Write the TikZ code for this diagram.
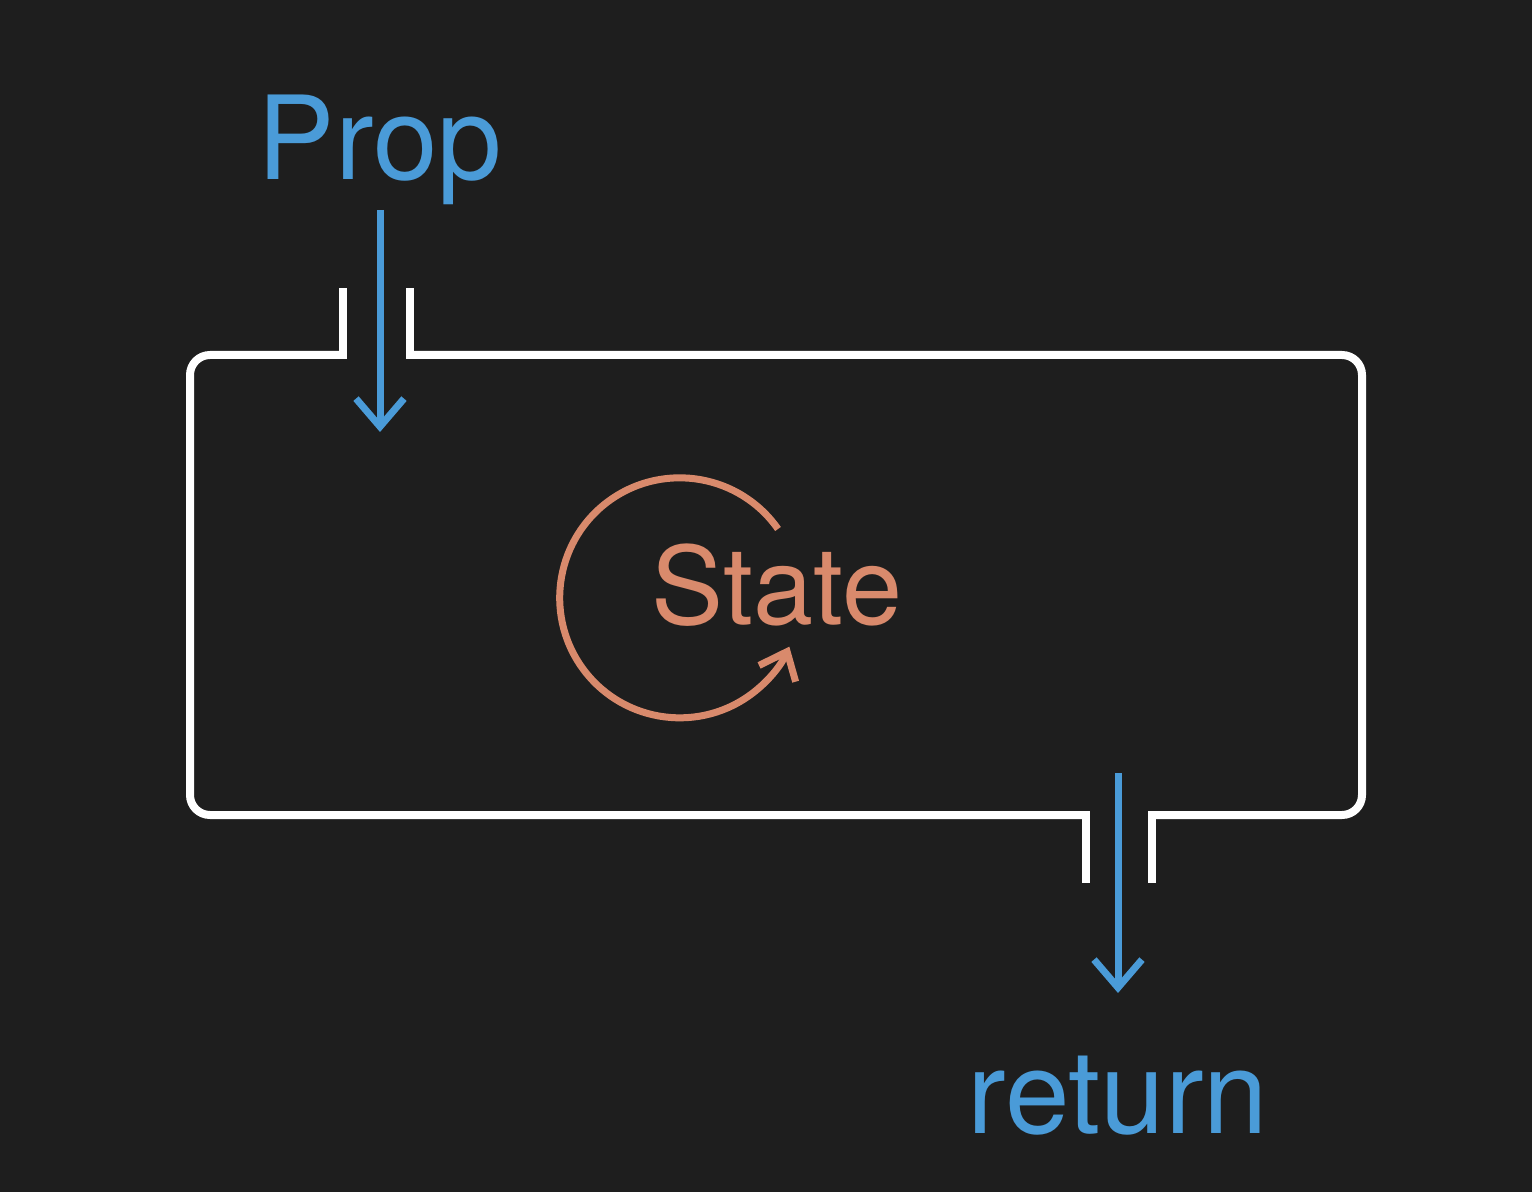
\documentclass[tikz,border=0pt]{standalone}
\usepackage{fontspec}
\setmainfont{TeX Gyre Heros}
\usetikzlibrary{arrows.meta}
\definecolor{bg}{HTML}{1E1E1E}
\definecolor{blu}{HTML}{4A9BD8}
\definecolor{org}{HTML}{D98A6C}
\tikzset{
  wall/.style={white,line width=4pt,rounded corners=10pt},
  stub/.style={white,line width=4pt},
  flow/.style={blu,line width=3.5pt,-{Straight Barb[length=14pt,width=24pt,line width=3.5pt]}},
  lbl/.style={blu,font=\fontsize{58}{60}\selectfont},
}
\begin{document}
\begin{tikzpicture}[x=0.5pt,y=-0.5pt]
\fill[bg] (0,0) rectangle (1532,1192);
\useasboundingbox (0,0) rectangle (1532,1192);
% box
\draw[wall] (343,355) -- (190,355) -- (190,815) -- (1086,815);
\draw[wall] (410,355) -- (1362,355) -- (1362,815) -- (1152,815);
\draw[stub] (343,359) -- (343,288);
\draw[stub] (410,359) -- (410,288);
\draw[stub] (1086,811) -- (1086,883);
\draw[stub] (1152,811) -- (1152,883);
% labels
\node[lbl] (prop) at (380,150) {Prop};
\node[lbl,anchor=base] (ret) at (1118,1133) {return};
\coordinate (pin) at (380,432);
\coordinate (rin) at (1118,773);
\coordinate (rout) at (1118,993);
\draw[flow] (prop.south) ++(0,-2) -- (pin);
\draw[flow] (rin) -- (rout);
% state
\node[org,font=\fontsize{54}{56}\selectfont] (st) at (777,585) {State};
\draw[org,line width=3.5pt,-{Straight Barb[length=12pt,width=20pt,line width=3.5pt]}]
  (778,529) arc[start angle=-35,end angle=-336,radius=120];
\end{tikzpicture}
\end{document}
